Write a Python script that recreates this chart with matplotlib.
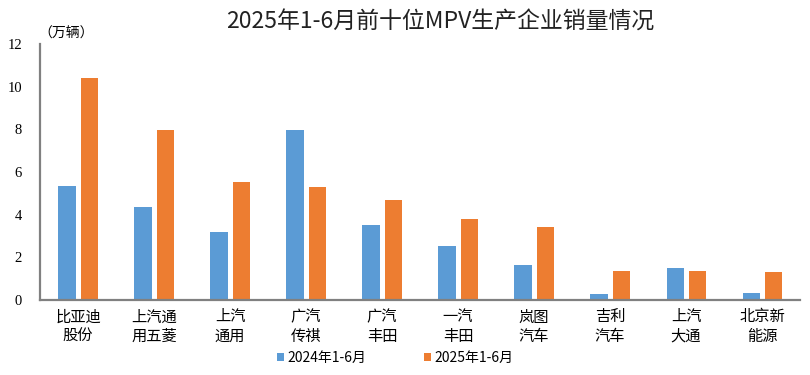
import matplotlib
matplotlib.use("Agg")
import matplotlib.pyplot as plt
import numpy as np

plt.rcParams['font.family'] = ['Noto Sans CJK SC', 'DejaVu Sans']

categories = ["比亚迪\n股份", "上汽通\n用五菱", "上汽\n通用", "广汽\n传祺", "广汽\n丰田",
              "一汽\n丰田", "岚图\n汽车", "吉利\n汽车", "上汽\n大通", "北京新\n能源"]
sales_2024 = [5.34, 4.36, 3.18, 7.96, 3.51, 2.53, 1.64, 0.28, 1.50, 0.33]
sales_2025 = [10.40, 7.96, 5.53, 5.29, 4.68, 3.79, 3.42, 1.36, 1.36, 1.31]
series_labels = ["2024年1-6月", "2025年1-6月"]
yticks = [0, 2, 4, 6, 8, 10, 12]

fig = plt.figure(figsize=(8.1, 3.75), dpi=100)
ax = fig.add_axes([0.0494, 0.2, 0.9383, 0.6827])

x = np.arange(len(categories))
w = 0.224
off = 0.145
ax.bar(x - off, sales_2024, width=w, color="#5B9BD5", label=series_labels[0])
ax.bar(x + off, sales_2025, width=w, color="#ED7D31", label=series_labels[1])

ax.set_xlim(-0.5, len(categories) - 0.5)
ax.set_ylim(0, 12)
ax.set_yticks(yticks)
ax.set_yticklabels([str(t) for t in yticks], family=['Liberation Serif'], fontsize=10.5)
ax.set_xticks(x)
ax.set_xticklabels(categories, fontsize=11, linespacing=1.2)
ax.tick_params(axis='both', length=0)
ax.tick_params(axis='y', pad=13)
ax.tick_params(axis='x', pad=6)
for s in ["top", "right"]:
    ax.spines[s].set_visible(False)
for s in ["left", "bottom"]:
    ax.spines[s].set_color("#808080")
    ax.spines[s].set_linewidth(1.6)

fig.text(0.543, 0.94, "2025年1-6月前十位MPV生产企业销量情况", ha="center", va="center",
         fontsize=16.5, color="#222222")
fig.text(0.047, 0.91, "（万辆）", ha="left", va="center", fontsize=10)

fig.legend(loc="center", bbox_to_anchor=(0.488, 0.045), ncol=2, frameon=False,
           fontsize=10, handlelength=0.5, handleheight=0.5, handletextpad=0.2,
           columnspacing=4.2)

fig.savefig("out.png", dpi=100)
